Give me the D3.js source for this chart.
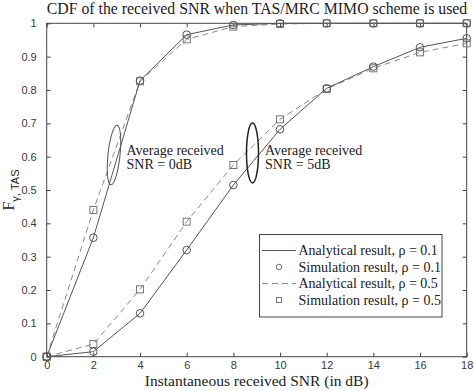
<!DOCTYPE html>
<html><head><meta charset="utf-8">
<script src="https://cdn.jsdelivr.net/npm/d3@7"></script>
<style>
html,body{margin:0;padding:0;background:#fff;}
svg{display:block;}
</style></head>
<body>
<svg id="c" width="474" height="391"></svg>
<script>
const snr = [0, 2, 4, 6, 8, 10, 12, 14, 16, 18];
const cdf0dB_rho01 = [0, 0.357, 0.828, 0.966, 0.995, 1, 1, 1, 1, 1];
const cdf0dB_rho05 = [0, 0.440, 0.826, 0.952, 0.990, 0.998, 1, 1, 1, 1];
const cdf5dB_rho01 = [0, 0.015, 0.130, 0.320, 0.515, 0.682, 0.805, 0.870, 0.928, 0.955];
const cdf5dB_rho05 = [0, 0.038, 0.202, 0.405, 0.575, 0.712, 0.803, 0.865, 0.913, 0.940];
const xTicks = [0, 2, 4, 6, 8, 10, 12, 14, 16, 18];
const yTicks = [0, 0.1, 0.2, 0.3, 0.4, 0.5, 0.6, 0.7, 0.8, 0.9, 1];
const legendLabels = ["Analytical result, \u03c1 = 0.1", "Simulation result, \u03c1 = 0.1",
                      "Analytical result, \u03c1 = 0.5", "Simulation result, \u03c1 = 0.5"];
const titleText = "CDF of the received SNR when TAS/MRC MIMO scheme is used";
const xLabel = "Instantaneous received SNR (in dB)";

const svg = d3.select("#c");
const L = 46.7, R = 466.7, T = 23.3, B = 356.7;
const x = d3.scaleLinear().domain([0, 18]).range([L, R]);
const y = d3.scaleLinear().domain([0, 1]).range([B, T]);
const serif = "'Liberation Serif', 'Times New Roman', serif";
const sans = "'Liberation Sans', Arial, sans-serif";
const solidCol = "#555", dashCol = "#8a8a8a";

// axes
const axCol = "#444";
function styleAxis(g){
  g.select(".domain").remove();
  g.selectAll("line").attr("stroke", axCol);
  g.selectAll("text").attr("fill", "#3a3a3a").style("font-family", sans).style("font-size", "11px");
}
svg.append("g").attr("transform", `translate(0,${B})`)
  .call(d3.axisBottom(x).tickValues(xTicks).tickSize(-4).tickPadding(5).tickFormat(d3.format("d"))).call(styleAxis);
svg.append("g").attr("transform", `translate(0,${T})`)
  .call(d3.axisTop(x).tickValues(xTicks).tickSize(-4).tickFormat("")).call(styleAxis);
svg.append("g").attr("transform", `translate(${L},0)`)
  .call(d3.axisLeft(y).tickValues(yTicks).tickSize(-4).tickPadding(10).tickFormat(d => d === 0 || d === 1 ? String(d) : d3.format(".1f")(d))).call(styleAxis);
svg.append("g").attr("transform", `translate(${R},0)`)
  .call(d3.axisRight(y).tickValues(yTicks).tickSize(-4).tickFormat("")).call(styleAxis);
svg.append("rect").attr("x", L).attr("y", T).attr("width", R - L).attr("height", B - T)
  .attr("fill", "none").attr("stroke", axCol).attr("stroke-width", 1);

// lines
const line = d3.line().x((d, i) => x(snr[i])).y(d => y(d));
function drawSeries(vals, dashed){
  svg.append("path").datum(vals).attr("d", line).attr("fill", "none")
    .attr("stroke", dashed ? dashCol : solidCol).attr("stroke-width", 1)
    .attr("stroke-dasharray", dashed ? "6,4" : null);
}
function drawMarkers(vals, marker){
  const g = svg.append("g");
  vals.forEach((v, i) => {
    if (marker === "circle") {
      g.append("circle").attr("cx", x(snr[i])).attr("cy", y(v)).attr("r", 3.8)
        .attr("fill", "none").attr("stroke", "#555").attr("stroke-width", 1);
    } else {
      g.append("rect").attr("x", x(snr[i]) - 3.5).attr("y", y(v) - 3.5).attr("width", 7).attr("height", 7)
        .attr("fill", "none").attr("stroke", "#777").attr("stroke-width", 1);
    }
  });
}
drawSeries(cdf0dB_rho05, true); drawSeries(cdf5dB_rho05, true);
drawSeries(cdf0dB_rho01, false); drawSeries(cdf5dB_rho01, false);
drawMarkers(cdf0dB_rho05, "square"); drawMarkers(cdf5dB_rho05, "square");
drawMarkers(cdf0dB_rho01, "circle"); drawMarkers(cdf5dB_rho01, "circle");

// ellipses and annotations
svg.append("ellipse").attr("cx", 114).attr("cy", 155).attr("rx", 6).attr("ry", 30)
  .attr("transform", "rotate(6,114,155)").attr("fill", "none").attr("stroke", "#555").attr("stroke-width", 1);
svg.append("ellipse").attr("cx", 252.5).attr("cy", 153).attr("rx", 6).attr("ry", 30)
  .attr("fill", "none").attr("stroke", "#222").attr("stroke-width", 1.5);
[[126.5, "Average received", "SNR = 0dB"], [265, "Average received", "SNR = 5dB"]].forEach(([tx, a, b]) => {
  svg.append("text").attr("x", tx).attr("y", 154.5).style("font-family", serif).style("font-size", "14px").attr("fill", "#222").text(a);
  svg.append("text").attr("x", tx).attr("y", 168.5).style("font-family", serif).style("font-size", "14px").attr("fill", "#222").text(b);
});

// legend
const lg = svg.append("g");
lg.append("rect").attr("x", 259.5).attr("y", 234.5).attr("width", 182.5).attr("height", 82.5)
  .attr("fill", "#fff").attr("stroke", "#444").attr("stroke-width", 1);
const rowsY = [250.5, 267, 283.5, 300];
legendLabels.forEach((lab, i) => {
  const yy = rowsY[i];
  if (i === 0 || i === 2) {
    lg.append("line").attr("x1", 262).attr("x2", 296).attr("y1", yy).attr("y2", yy)
      .attr("stroke", i === 0 ? solidCol : dashCol).attr("stroke-width", 1)
      .attr("stroke-dasharray", i === 2 ? "6,4" : null);
  } else if (i === 1) {
    lg.append("circle").attr("cx", 279).attr("cy", yy).attr("r", 2.8).attr("fill", "none").attr("stroke", "#777");
  } else {
    lg.append("rect").attr("x", 276.5).attr("y", yy - 2.5).attr("width", 5).attr("height", 5).attr("fill", "none").attr("stroke", "#777");
  }
  lg.append("text").attr("x", 298.5).attr("y", yy + 4.5).style("font-family", serif).style("font-size", "14px")
    .attr("fill", "#222").text(lab);
});

// title and axis labels
svg.append("text").attr("x", 257).attr("y", 14).attr("text-anchor", "middle")
  .style("font-family", serif).style("font-size", "15.8px").attr("fill", "#222").text(titleText);
svg.append("text").attr("x", 256.7).attr("y", 386).attr("text-anchor", "middle")
  .style("font-family", serif).style("font-size", "15.5px").attr("fill", "#222").text(xLabel);
const yl = svg.append("text").attr("transform", `translate(14,${(T + B) / 2}) rotate(-90)`).attr("text-anchor", "middle")
  .attr("fill", "#222");
yl.append("tspan").style("font-family", serif).style("font-size", "16px").text("F");
yl.append("tspan").attr("dy", 5).style("font-family", sans).style("font-size", "11px").text("\u03b3, TAS");
</script>
</body></html>
